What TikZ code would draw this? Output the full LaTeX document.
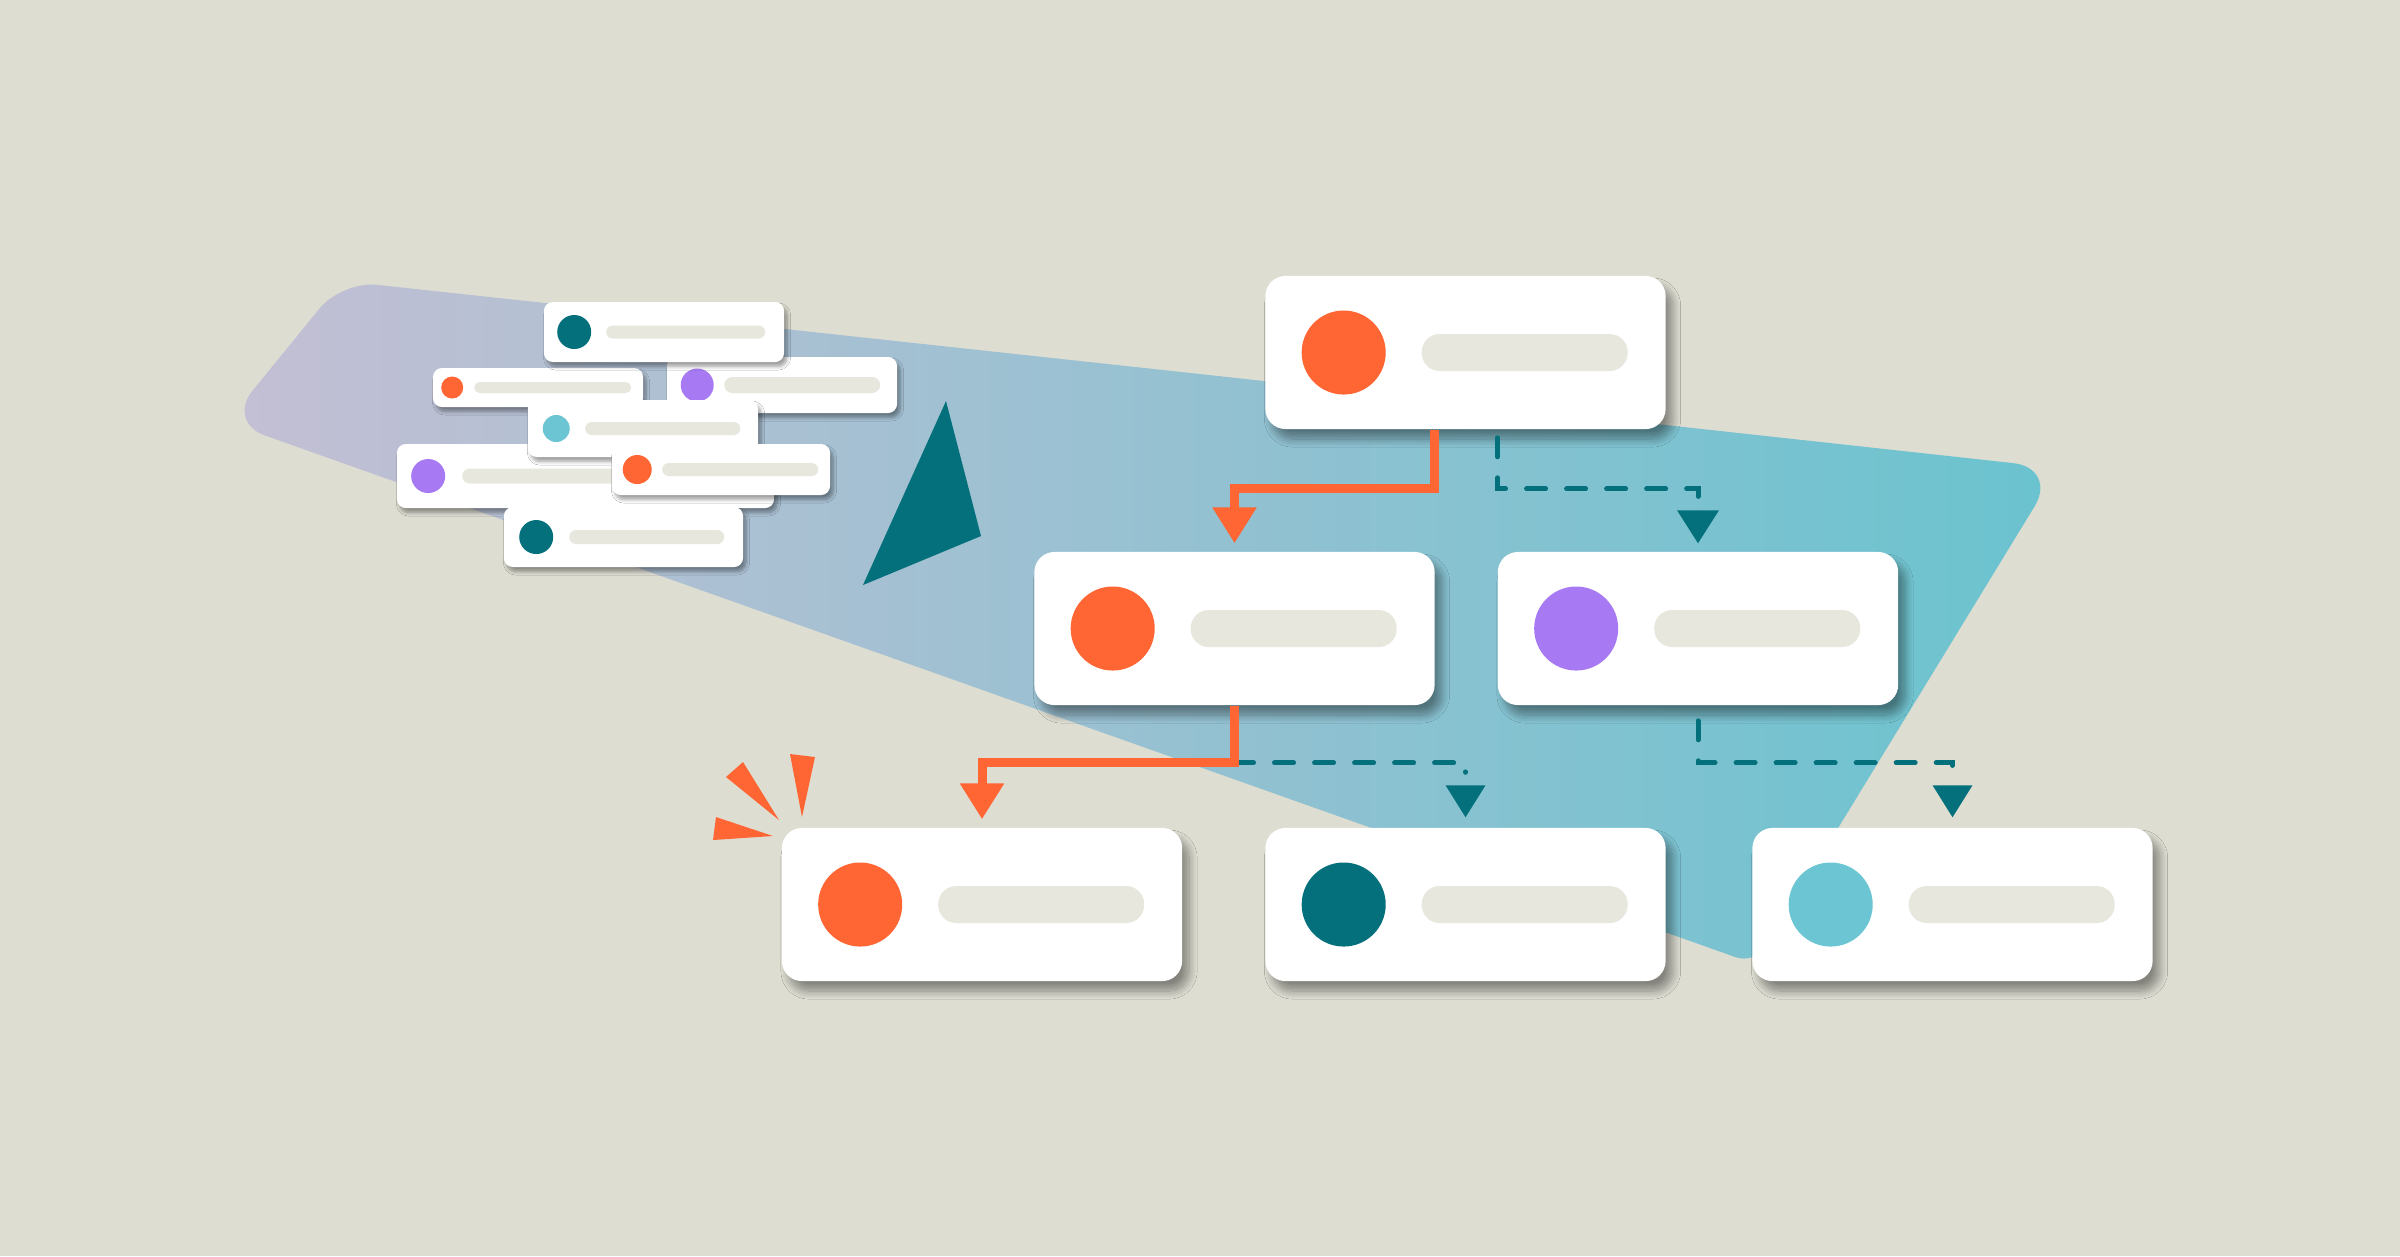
\documentclass[tikz,border=0pt]{standalone}
\usetikzlibrary{calc,arrows.meta,shadows.blur}
\definecolor{bgc}{HTML}{DEDDD2}
\definecolor{orc}{HTML}{FF6633}
\definecolor{tealc}{HTML}{03707B}
\definecolor{purc}{HTML}{A77AF4}
\definecolor{cyanc}{HTML}{6BC5D2}
\definecolor{barc}{HTML}{E8E7DE}
\definecolor{shL}{HTML}{C4BFD4}
\definecolor{shM}{HTML}{9AC2D0}
\definecolor{shR}{HTML}{6AC3CF}
\begin{document}
\begin{tikzpicture}[x=0.01cm,y=-0.01cm,
  card/.style={rectangle, fill=white, rounded corners=0.2cm, minimum width=4cm,
    minimum height=1.53cm, inner sep=0pt,
    blur shadow={shadow xshift=0.07cm, shadow yshift=-0.1cm, shadow blur radius=0.08cm, shadow blur steps=12, shadow opacity=40}},
  scard/.style={rectangle, fill=white, rounded corners=0.09cm, inner sep=0pt,
    blur shadow={shadow xshift=0.03cm, shadow yshift=-0.045cm, shadow blur radius=0.035cm, shadow blur steps=8, shadow opacity=38}},
  bigbar/.style={fill=barc, rounded corners=0.18cm},
  orconn/.style={draw=orc, line width=0.09cm, -{Triangle[width=0.42cm,length=0.36cm]}, shorten >=0.08cm},
  dconn/.style={draw=tealc, line width=0.05cm, dash pattern=on 0.19cm off 0.21cm, line cap=round},
  ttip/.style={fill=tealc},
]
\useasboundingbox (0,0) rectangle (2400,1256);
\fill[bgc] (0,0) rectangle (2400,1256);

% background gradient shape
\path[left color=shL, middle color=shM, right color=shR]
  (1200,374) [rounded corners=0.45cm] -- (2058,468) [rounded corners=0.2cm] -- (1755,964)
  [rounded corners=0.4cm] -- (227,422) [rounded corners=0.35cm] -- (342,281) -- cycle;

% big teal triangle
\fill[tealc] (946,401) -- (981,536) -- (863,585) -- cycle;

% small stacked cards
\node[scard, minimum width=2.1cm, minimum height=0.39cm] (s2) at (538,387.5) {};
\fill[orc] ($(s2.west)+(20,0)$) circle[radius=0.11cm];
\fill[barc, rounded corners=0.055cm] ($(s2.west)+(42,-5.5)$) rectangle ++(157,11);

\node[scard, minimum width=2.3cm, minimum height=0.56cm] (s3) at (782,385) {};
\fill[purc] ($(s3.west)+(31,0)$) circle[radius=0.165cm];
\fill[barc, rounded corners=0.08cm] ($(s3.west)+(58,-8)$) rectangle ++(156,16);

\node[scard, minimum width=2.4cm, minimum height=0.6cm] (s1) at (664,332) {};
\fill[tealc] ($(s1.west)+(31,0)$) circle[radius=0.17cm];
\fill[barc, rounded corners=0.065cm] ($(s1.west)+(63,-6.5)$) rectangle ++(159,13);

\node[scard, minimum width=3.77cm, minimum height=0.64cm] (s5) at (585.5,476) {};
\fill[purc] ($(s5.west)+(32,0)$) circle[radius=0.17cm];
\fill[barc, rounded corners=0.075cm] ($(s5.west)+(66,-7.5)$) rectangle ++(277,15);

\node[scard, minimum width=2.3cm, minimum height=0.57cm] (s4) at (643,428.5) {};
\fill[cyanc] ($(s4.west)+(29,0)$) circle[radius=0.135cm];
\fill[barc, rounded corners=0.065cm] ($(s4.west)+(58,-6.5)$) rectangle ++(155,13);

\node[scard, minimum width=2.18cm, minimum height=0.51cm] (s6) at (721,469.5) {};
\fill[orc] ($(s6.west)+(26,0)$) circle[radius=0.145cm];
\fill[barc, rounded corners=0.065cm] ($(s6.west)+(51,-6.5)$) rectangle ++(156,13);

\node[scard, minimum width=2.39cm, minimum height=0.6cm] (s7) at (623.5,537) {};
\fill[tealc] ($(s7.west)+(33,0)$) circle[radius=0.17cm];
\fill[barc, rounded corners=0.07cm] ($(s7.west)+(66,-7)$) rectangle ++(155,14);

% big cards
\foreach \n/\cx/\cy/\col in {top/1465.5/352.5/orc, ml/1234.5/628.5/orc, mr/1698/628.5/purc,
    bl/982/904.5/orc, bm/1465.5/904.5/tealc, br/1952.5/904.5/cyanc}{
  \node[card] (\n) at (\cx,\cy) {};
  \fill[\col] ($(\n.west)+(79,0)$) circle[radius=0.42cm];
  \fill[bigbar] ($(\n.west)+(157,-18.5)$) rectangle ++(206,37);
}

% connectors
\coordinate (mrIn) at ($(mr.north)+(0,-53)$);
\coordinate (bmIn) at ($(bm.north)+(0,-55)$);
\coordinate (brIn) at ($(br.north)+(0,-58)$);

\draw[orconn] ($(top.south)+(-31,0)$) -- ++(0,59) -| (ml.north);
\draw[dconn] ($(top.south)+(32,8)$) -- ++(0,51) -| (mrIn);
\fill[ttip] ($(mr.north)+(0,-8)$) -- ++(-21,-33) -- ++(42,0) -- cycle;

\draw[dconn] ($(ml.south)+(0,57)$) -| (bmIn);
\draw[orconn] (ml.south) -- ++(0,57) -| (bl.north);
\fill[ttip] ($(bm.north)+(0,-10)$) -- ++(-20,-32) -- ++(40,0) -- cycle;

\draw[dconn] ($(mr.south)+(0,15)$) -- ++(0,42) -| (brIn);
\fill[ttip] ($(br.north)+(0,-10)$) -- ++(-20,-32) -- ++(40,0) -- cycle;

% burst
\fill[orc] (716,817) -- (713,840) -- (773,836) -- cycle;
\fill[orc] (726,777) -- (743,762) -- (779,820) -- cycle;
\fill[orc] (790,754) -- (815,757) -- (802,817) -- cycle;
\end{tikzpicture}
\end{document}
